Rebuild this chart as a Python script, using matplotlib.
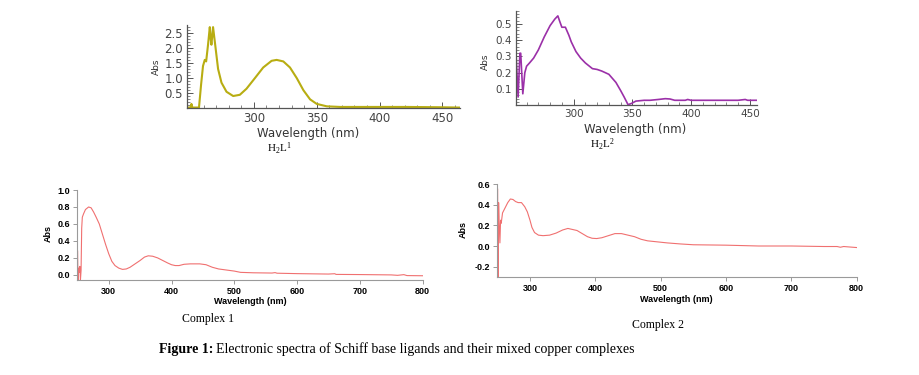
import matplotlib
matplotlib.use('Agg')
import matplotlib.pyplot as plt
from matplotlib.ticker import MultipleLocator

plt.rcParams['mathtext.fontset'] = 'custom'
plt.rcParams['mathtext.rm'] = 'Liberation Serif'
plt.rcParams['mathtext.it'] = 'Liberation Serif'

# Data
wl_l1 = [248, 249.5, 250.3, 251, 253, 256.3, 258, 259.5, 260.9, 262, 263.5, 264.9, 265.6, 266.2,
         267.5, 268.9, 271.5, 274.2, 278.2, 283.5, 288.8, 294.1, 300.8, 307.4, 314.1, 318.1,
         323.4, 328.7, 334.1, 339.4, 344.7, 350, 358, 368.6, 395, 422, 448, 464]
abs_l1 = [0.03, 0.03, 0.15, 0.03, 0.03, 0.03, 0.8, 1.4, 1.6, 1.55, 2.1, 2.68, 2.3, 2.1,
          2.68, 2.2, 1.3, 0.85, 0.55, 0.41, 0.45, 0.65, 1.0, 1.35, 1.57, 1.6,
          1.55, 1.35, 1.0, 0.6, 0.3, 0.15, 0.07, 0.05, 0.05, 0.05, 0.04, 0.03]

wl_l2 = [251, 252.8, 254.3, 255, 256.8, 258.5, 260, 262.5, 266, 270, 275, 280, 284, 286.6, 288,
         290, 293, 296, 298, 302, 306, 310, 316, 320, 324, 330, 336, 340, 343, 346.3, 349,
         353, 360, 365, 372, 378, 382, 386, 395, 397, 400, 420, 440, 446, 448, 456]
abs_l2 = [0.32, 0.05, 0.32, 0.32, 0.07, 0.2, 0.24, 0.26, 0.29, 0.34, 0.42, 0.49, 0.53, 0.55, 0.52,
          0.48, 0.48, 0.43, 0.39, 0.33, 0.29, 0.26, 0.225, 0.22, 0.21, 0.19, 0.14, 0.09, 0.05, 0.003, 0.01,
          0.025, 0.03, 0.03, 0.035, 0.04, 0.038, 0.03, 0.03, 0.035, 0.03, 0.03, 0.03, 0.035, 0.03, 0.03]

wl_c1 = [250.5, 251, 252, 253, 254, 255, 256, 257, 258, 260, 263, 268, 272, 276, 280, 285, 290,
         295, 300, 305, 310, 316, 322, 328, 334, 342, 350, 357, 363, 370, 378, 386, 394, 400,
         406, 412, 420, 430, 445, 455, 465, 475, 490, 500, 510, 530, 560, 565, 568, 600, 650,
         660, 662, 700, 750, 760, 770, 775, 800]
abs_c1 = [0.28, -0.06, 0.08, 0.03, 0.1, -0.06, 0.05, 0.55, 0.68, 0.72, 0.77, 0.80, 0.79, 0.74, 0.68, 0.60, 0.48,
          0.36, 0.25, 0.16, 0.11, 0.08, 0.065, 0.07, 0.09, 0.13, 0.17, 0.21, 0.225, 0.22, 0.20, 0.17, 0.14, 0.12,
          0.11, 0.11, 0.125, 0.13, 0.13, 0.12, 0.09, 0.07, 0.055, 0.045, 0.03, 0.025, 0.022, 0.027, 0.02, 0.015, 0.01,
          0.014, 0.006, 0.004, 0.0, -0.005, 0.003, -0.008, -0.01]

wl_c2 = [250.5, 251, 252, 253, 254, 255, 256, 258, 262, 266, 270, 274, 278, 282, 287, 292, 296,
         300, 303, 307, 313, 320, 330, 340, 350, 358, 365, 372, 380, 388, 395, 402, 410, 420,
         430, 440, 450, 460, 470, 480, 495, 510, 530, 550, 600, 650, 700, 750, 770, 775, 780, 790, 800]
abs_c2 = [0.55, -0.3, 0.42, 0.2, 0.03, 0.25, 0.22, 0.32, 0.37, 0.42, 0.455, 0.45, 0.43, 0.42, 0.42, 0.38, 0.33,
          0.25, 0.18, 0.13, 0.105, 0.10, 0.105, 0.125, 0.155, 0.17, 0.16, 0.15, 0.12, 0.09, 0.075, 0.072, 0.08, 0.10,
          0.12, 0.12, 0.105, 0.09, 0.065, 0.05, 0.04, 0.03, 0.02, 0.012, 0.008, 0.0, 0.0, -0.005, -0.005, -0.012,
          -0.005, -0.01, -0.015]

W, H = 920, 375
fig = plt.figure(figsize=(W / 100, H / 100), dpi=100)


def px_axes(l, t, r, b):
    return fig.add_axes([l / W, 1 - b / H, (r - l) / W, (b - t) / H])


def px_text(x, y, s, **kw):
    return fig.text(x / W, 1 - y / H, s, ha=kw.pop('ha', 'center'), va=kw.pop('va', 'center'), **kw)


def mathematica_style(ax, size):
    for s in ['top', 'right']:
        ax.spines[s].set_visible(False)
    for s in ['left', 'bottom']:
        ax.spines[s].set_color('#555555')
        ax.spines[s].set_linewidth(0.9)
    ax.tick_params(which='both', direction='in', colors='#555555', labelcolor='#444444',
                   labelsize=size, pad=3)
    ax.tick_params(which='major', length=4, width=0.7)
    ax.tick_params(which='minor', length=2, width=0.5)
    for lab in ax.get_xticklabels() + ax.get_yticklabels():
        lab.set_family('DejaVu Sans')


def excel_style(ax):
    for s in ['top', 'right']:
        ax.spines[s].set_visible(False)
    for s in ['left', 'bottom']:
        ax.spines[s].set_color('#9a9a9a')
        ax.spines[s].set_linewidth(0.8)
    ax.tick_params(direction='out', length=3, width=0.7, colors='#9a9a9a',
                   labelcolor='black', labelsize=6.5, pad=2)
    for lab in ax.get_xticklabels() + ax.get_yticklabels():
        lab.set_family('Liberation Sans')
        lab.set_weight('bold')


# H2L1
ax1 = px_axes(187.3, 25, 460, 107.7)
ax1.plot(wl_l1, abs_l1, color='#b8ad12', lw=1.5)
ax1.set_xlim(247, 464)
ax1.set_ylim(0.025, 2.75)
ax1.set_xticks([300, 350, 400, 450])
ax1.set_yticks([0.5, 1.0, 1.5, 2.0, 2.5])
ax1.xaxis.set_minor_locator(MultipleLocator(10))
ax1.yaxis.set_minor_locator(MultipleLocator(0.1))
mathematica_style(ax1, 8.5)
px_text(308, 133, 'Wavelength (nm)', family='DejaVu Sans', fontsize=8.5, color='#333333')
px_text(156, 67, 'Abs', family='DejaVu Sans', fontsize=6.5, color='#333333', rotation=90)
px_text(279, 149, r'H$_2$L$^1$', family='Liberation Serif', fontsize=8)

# H2L2
ax2 = px_axes(516, 11, 757, 105)
ax2.plot(wl_l2, abs_l2, color='#9b30a8', lw=1.2)
ax2.set_xlim(251, 456)
ax2.set_ylim(0.001, 0.58)
ax2.set_xticks([300, 350, 400, 450])
ax2.set_yticks([0.1, 0.2, 0.3, 0.4, 0.5])
ax2.xaxis.set_minor_locator(MultipleLocator(10))
ax2.yaxis.set_minor_locator(MultipleLocator(0.02))
mathematica_style(ax2, 7.5)
px_text(635, 130, 'Wavelength (nm)', family='DejaVu Sans', fontsize=8.5, color='#333333')
px_text(485, 62, 'Abs', family='DejaVu Sans', fontsize=6.5, color='#333333', rotation=90)
px_text(602, 145, r'H$_2$L$^2$', family='Liberation Serif', fontsize=8)

# Complex 1
ax3 = px_axes(77.3, 190, 422.7, 280)
ax3.plot(wl_c1, abs_c1, color='#f07070', lw=0.8)
ax3.set_xlim(250, 800)
ax3.set_ylim(-0.06, 1.0)
ax3.set_xticks([300, 400, 500, 600, 700, 800])
ax3.set_yticks([0.0, 0.2, 0.4, 0.6, 0.8, 1.0])
ax3.set_yticklabels(['0.0', '0.2', '0.4', '0.6', '0.8', '1.0'])
excel_style(ax3)
px_text(250, 301, 'Wavelength (nm)', family='Liberation Sans', fontsize=6.5, weight='bold')
px_text(48, 234, 'Abs', family='Liberation Sans', fontsize=6.5, weight='bold', rotation=90)
px_text(208, 319, 'Complex 1', family='Liberation Serif', fontsize=8.5)

# Complex 2
ax4 = px_axes(497.3, 184, 856.7, 277)
ax4.plot(wl_c2, abs_c2, color='#f07070', lw=0.8)
ax4.set_xlim(250, 800)
ax4.set_ylim(-0.3, 0.6)
ax4.set_xticks([300, 400, 500, 600, 700, 800])
ax4.set_yticks([-0.2, 0.0, 0.2, 0.4, 0.6])
ax4.set_yticklabels(['-0.2', '0.0', '0.2', '0.4', '0.6'])
excel_style(ax4)
px_text(676, 299, 'Wavelength (nm)', family='Liberation Sans', fontsize=6.5, weight='bold')
px_text(463, 229, 'Abs', family='Liberation Sans', fontsize=6.5, weight='bold', rotation=90)
px_text(658, 325, 'Complex 2', family='Liberation Serif', fontsize=8.5)

# Figure caption: bold lead followed by regular text
t1 = px_text(159, 349, 'Figure 1:', family='Liberation Serif', fontsize=10, weight='bold', ha='left')
fig.canvas.draw()
bb = t1.get_window_extent()
fig.text(bb.x1 / W + 3 / W, 1 - 349 / H,
         'Electronic spectra of Schiff base ligands and their mixed copper complexes',
         family='Liberation Serif', fontsize=10, ha='left', va='center')

fig.savefig('out.png', dpi=100)
